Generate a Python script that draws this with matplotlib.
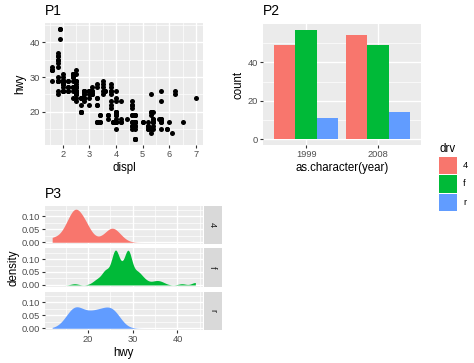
import numpy as np
import matplotlib
matplotlib.use("Agg")
import matplotlib.pyplot as plt
import seaborn as sns
from matplotlib.patches import Rectangle
from matplotlib.ticker import FixedLocator

plt.rcParams['font.family'] = ['Liberation Sans', 'DejaVu Sans']

# ---------------- data (mpg: displ, hwy, drv) ----------------
displ = [1.8, 1.8, 2.0, 2.0, 2.8, 2.8, 3.1, 1.8, 1.8, 2.0, 2.0, 2.8, 2.8, 3.1, 3.1, 2.8, 3.1, 4.2,
         5.3, 5.3, 5.3, 5.7, 6.0, 5.7, 5.7, 6.2, 6.2, 7.0, 5.3, 5.3, 5.7, 6.5, 2.4, 2.4, 3.1, 3.5, 3.6,
         2.4, 3.0, 3.3, 3.3, 3.3, 3.3, 3.3, 3.8, 3.8, 3.8, 4.0, 3.7, 3.7, 3.9, 3.9, 4.7, 4.7, 4.7, 5.2, 5.2,
         3.9, 4.7, 4.7, 4.7, 5.2, 5.7, 5.9, 4.7, 4.7, 4.7, 4.7, 4.7, 4.7, 5.2, 5.2, 5.7, 5.9,
         4.6, 5.4, 5.4, 4.0, 4.0, 4.0, 4.0, 4.6, 5.0, 4.2, 4.2, 4.6, 4.6, 4.6, 5.4, 5.4,
         3.8, 3.8, 4.0, 4.0, 4.6, 4.6, 4.6, 4.6, 5.4,
         1.6, 1.6, 1.6, 1.6, 1.6, 1.8, 1.8, 1.8, 2.0,
         2.4, 2.4, 2.4, 2.4, 2.5, 2.5, 3.3, 2.0, 2.0, 2.0, 2.0, 2.7, 2.7, 2.7,
         3.0, 3.7, 4.0, 4.7, 4.7, 4.7, 5.7, 6.1,
         4.0, 4.2, 4.4, 4.6, 5.4, 5.4, 5.4, 4.0, 4.0, 4.6, 5.0,
         2.4, 2.4, 2.5, 2.5, 3.5, 3.5, 3.0, 3.0, 3.5, 3.3, 3.3, 4.0, 5.6,
         3.1, 3.8, 3.8, 3.8, 5.3,
         2.5, 2.5, 2.5, 2.5, 2.5, 2.5, 2.2, 2.2, 2.5, 2.5, 2.5, 2.5, 2.5, 2.5,
         2.7, 2.7, 3.4, 3.4, 4.0, 4.7, 2.2, 2.2, 2.4, 2.4, 3.0, 3.0, 3.5, 2.2, 2.2, 2.4, 2.4, 3.0, 3.0, 3.3,
         1.8, 1.8, 1.8, 1.8, 1.8, 4.7, 5.7, 2.7, 2.7, 2.7, 3.4, 3.4, 4.0, 4.0,
         2.0, 2.0, 2.0, 2.0, 2.8, 1.9, 2.0, 2.0, 2.0, 2.0, 2.5, 2.5, 2.8, 2.8, 1.9, 1.9, 2.0, 2.0, 2.5, 2.5,
         1.8, 1.8, 2.0, 2.0, 2.8, 2.8, 3.6]
hwy = [29, 29, 31, 30, 26, 26, 27, 26, 25, 28, 27, 25, 25, 25, 25, 24, 25, 23,
       20, 15, 20, 17, 17, 26, 23, 26, 25, 24, 19, 14, 15, 17, 27, 30, 26, 29, 26,
       24, 24, 22, 22, 24, 24, 17, 22, 21, 23, 23, 19, 18, 17, 17, 19, 19, 12, 17, 15,
       17, 17, 12, 17, 16, 18, 15, 16, 12, 17, 17, 16, 12, 15, 16, 17, 15,
       17, 17, 18, 17, 19, 17, 19, 19, 17, 17, 17, 16, 16, 17, 15, 17,
       26, 25, 26, 24, 21, 22, 23, 22, 20,
       33, 32, 32, 29, 32, 34, 36, 36, 29,
       26, 27, 30, 31, 26, 26, 28, 26, 29, 28, 29, 24, 24, 24,
       22, 19, 20, 17, 12, 19, 18, 14,
       15, 18, 18, 15, 17, 16, 18, 17, 19, 19, 17,
       29, 27, 31, 32, 27, 26, 26, 25, 25, 17, 17, 20, 18,
       26, 26, 27, 28, 25,
       25, 24, 27, 25, 26, 23, 26, 26, 26, 26, 25, 27, 25, 27,
       20, 20, 19, 17, 20, 17, 29, 27, 31, 31, 26, 26, 28, 27, 29, 31, 31, 26, 26, 27,
       30, 33, 35, 37, 35, 15, 18, 20, 20, 22, 17, 19, 18, 20,
       29, 26, 29, 29, 24, 44, 29, 26, 29, 29, 29, 29, 23, 24, 44, 41, 29, 26, 28, 29,
       29, 29, 28, 29, 26, 26, 26]
drv = (['f'] * 7 + ['4'] * 11 +
       ['r'] * 10 + ['4'] * 4 + ['f'] * 5 +
       ['f'] * 11 + ['4'] * 26 +
       ['r'] * 3 + ['4'] * 13 + ['r'] * 9 +
       ['f'] * 9 +
       ['f'] * 14 +
       ['4'] * 8 +
       ['4'] * 4 + ['r'] * 3 + ['4'] * 4 +
       ['f'] * 9 + ['4'] * 4 +
       ['f'] * 5 +
       ['4'] * 14 +
       ['4'] * 6 + ['f'] * 14 +
       ['f'] * 5 + ['4'] * 9 +
       ['f'] * 27)

years = ['1999', '2008']
drv_levels = ['4', 'f', 'r']
count_4 = [49, 54]
count_f = [57, 49]
count_r = [11, 14]
fill_colors = ['#F8766D', '#00BA38', '#619CFF']

# ---------------- styling helpers ----------------
W, H = 474, 363
fig = plt.figure(figsize=(W / 100, H / 100), dpi=100)
fig.patch.set_facecolor('white')

PANEL = '#EBEBEB'
TICKC = '#4D4D4D'
TICK_FS = 6.7
AXIS_FS = 8.3
TITLE_FS = 10.0
STRIP_FS = 6.7


def add_ax(x0, y0, x1, y1):
    return fig.add_axes([x0 / W, 1 - y1 / H, (x1 - x0) / W, (y1 - y0) / H])


def style(ax):
    ax.set_facecolor(PANEL)
    for s in ax.spines.values():
        s.set_visible(False)
    ax.tick_params(which='major', length=2.0, width=0.8, color='#333333',
                   labelsize=TICK_FS, labelcolor=TICKC, pad=1.6)
    ax.tick_params(which='minor', length=0, width=0)
    ax.grid(which='major', color='white', linewidth=1.0)
    ax.grid(which='minor', color='white', linewidth=0.5)
    ax.set_axisbelow(True)


def ptitle(x, y, s):
    fig.text(x / W, 1 - y / H, s, fontsize=TITLE_FS, ha='left', va='center', color='black')


# ---------------- P1: scatter ----------------
ax1 = add_ax(45, 23, 203, 145)
style(ax1)
ax1.scatter(displ, hwy, s=13, color='black', linewidths=0, zorder=3)
ax1.set_xlim(1.33, 7.27)
ax1.set_ylim(10.4, 45.6)
ax1.xaxis.set_major_locator(FixedLocator([2, 3, 4, 5, 6, 7]))
ax1.xaxis.set_minor_locator(FixedLocator([1.5, 2.5, 3.5, 4.5, 5.5, 6.5]))
ax1.yaxis.set_major_locator(FixedLocator([20, 30, 40]))
ax1.yaxis.set_minor_locator(FixedLocator([15, 25, 35, 45]))
ax1.set_xlabel('displ', fontsize=AXIS_FS, labelpad=2)
ax1.set_ylabel('hwy', fontsize=AXIS_FS, labelpad=2.5)
ptitle(45, 11, 'P1')

# ---------------- P2: dodged bars ----------------
ax2 = add_ax(263, 24, 421, 145)
style(ax2)
xpos = np.arange(1, len(years) + 1)
bw = 0.9 / 3
for i, (vals, col) in enumerate(zip([count_4, count_f, count_r], fill_colors)):
    ax2.bar(xpos + (i - 1) * bw, vals, width=bw, color=col, linewidth=0, zorder=3)
ax2.set_xlim(0.4, 2.6)
ax2.set_ylim(-2.85, 59.85)
ax2.xaxis.set_major_locator(FixedLocator(list(xpos)))
ax2.set_xticklabels(years)
ax2.yaxis.set_major_locator(FixedLocator([0, 20, 40]))
ax2.yaxis.set_minor_locator(FixedLocator([10, 30, 50]))
ax2.grid(which='minor', axis='x', visible=False)
ax2.set_xlabel('as.character(year)', fontsize=AXIS_FS, labelpad=2)
ax2.set_ylabel('count', fontsize=AXIS_FS, labelpad=2.5)
ptitle(263, 11, 'P2')

# legend (drawn as a guide next to P2)
fig.text(439 / W, 1 - 149 / H, 'drv', fontsize=AXIS_FS, ha='left', va='center')
key_x, key_w, key_h, key_gap, key_top = 439.3, 17.4, 17.3, 1.3, 156.7
for i, (lev, col) in enumerate(zip(drv_levels, fill_colors)):
    top = key_top + i * (key_h + key_gap)
    fig.patches.append(Rectangle((key_x / W, 1 - (top + key_h) / H), key_w / W, key_h / H,
                                 transform=fig.transFigure, facecolor=col, edgecolor='none'))
    fig.text(463 / W, 1 - (top + key_h / 2) / H, lev, fontsize=TICK_FS, ha='left', va='center')

# ---------------- P3: faceted densities ----------------
hwy_arr = np.array(hwy, dtype=float)
drv_arr = np.array(drv)
panel_rows = [(205.7, 244.0), (248.3, 286.7), (291.7, 330.0)]
axes3 = []
for lev, col, (yt, yb) in zip(drv_levels, fill_colors, panel_rows):
    ax = add_ax(45, yt, 202.5, yb)
    style(ax)
    vals = hwy_arr[drv_arr == lev]
    sd = vals.std(ddof=1)
    iqr = np.subtract(*np.percentile(vals, [75, 25]))
    factor = 0.9 * min(sd, iqr / 1.34) / sd * len(vals) ** -0.2
    sns.kdeplot(x=vals, ax=ax, fill=True, color=col, alpha=1, linewidth=0,
                bw_method=factor, cut=40, clip=(12, 44), gridsize=512, zorder=3)
    ax.set_xlabel('')
    ax.set_ylabel('')
    ax.set_xlim(10.4, 45.6)
    ax.xaxis.set_major_locator(FixedLocator([20, 30, 40]))
    ax.xaxis.set_minor_locator(FixedLocator([15, 25, 35, 45]))
    ax.yaxis.set_major_locator(FixedLocator([0.0, 0.05, 0.10]))
    ax.yaxis.set_minor_locator(FixedLocator([0.025, 0.075, 0.125]))
    ax.yaxis.set_major_formatter(plt.FuncFormatter(lambda v, p: f'{v:.2f}'))
    # strip
    sax = add_ax(203.5, yt, 222, yb)
    sax.set_facecolor('#D9D9D9')
    sax.set_xticks([])
    sax.set_yticks([])
    for s in sax.spines.values():
        s.set_visible(False)
    sax.text(0.5, 0.5, lev, rotation=-90, ha='center', va='center',
             fontsize=STRIP_FS, color='#1A1A1A', transform=sax.transAxes)
    axes3.append(ax)

ymax = max(a.dataLim.y1 for a in axes3)
for i, a in enumerate(axes3):
    a.set_ylim(-0.05 * ymax, 1.05 * ymax)
    if i < 2:
        a.tick_params(axis='x', which='both', length=0, labelbottom=False)
axes3[-1].set_xlabel('hwy', fontsize=AXIS_FS, labelpad=2)
fig.text(13 / W, 1 - 268 / H, 'density', rotation=90, ha='center', va='center',
         fontsize=AXIS_FS)
ptitle(45, 194, 'P3')

fig.savefig('out.png', dpi=100, facecolor='white')
